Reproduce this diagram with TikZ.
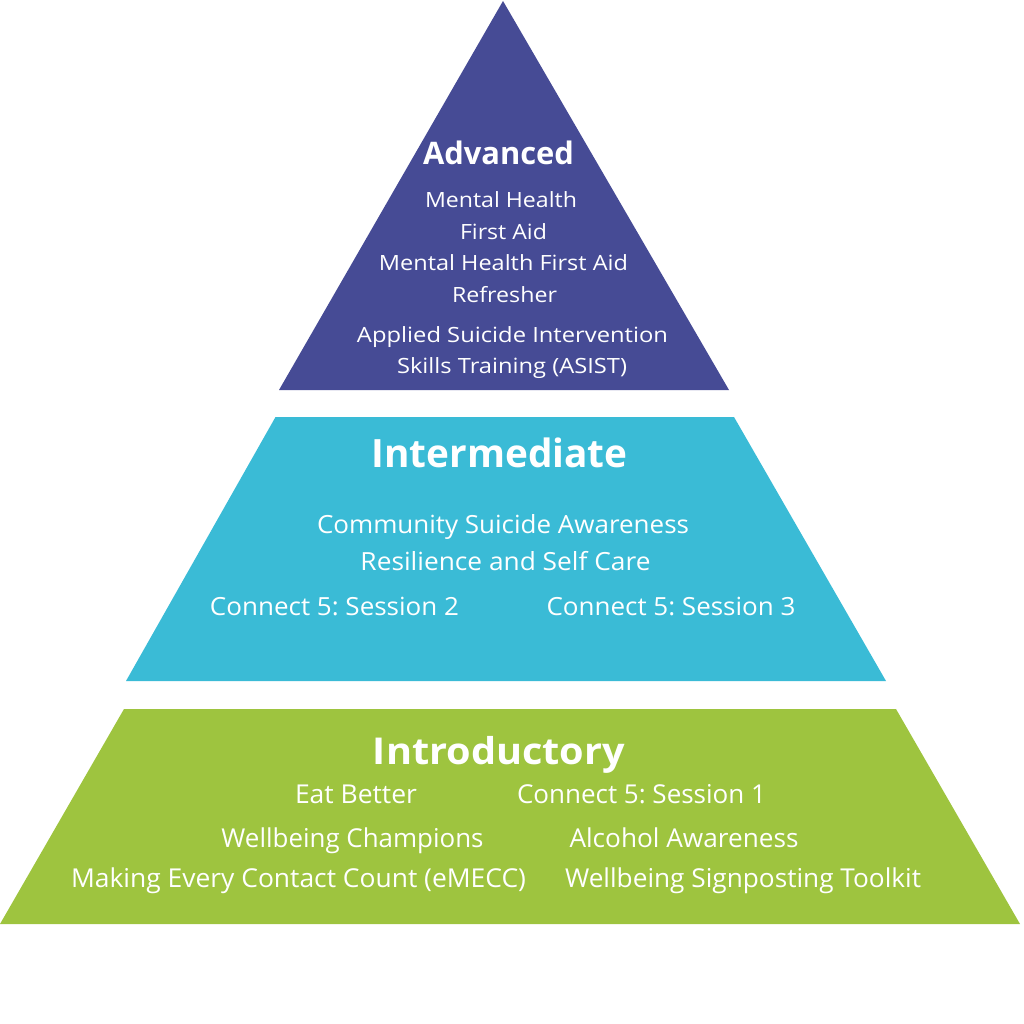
\documentclass[tikz,border=0pt]{standalone}
\usepackage{fontspec}
\setmainfont{Open Sans}
\usepackage{graphicx}
\definecolor{tierpurple}{HTML}{464B95}
\definecolor{tiercyan}{HTML}{3ABBD6}
\definecolor{tiergreen}{HTML}{9EC43F}
\newcommand{\fitw}[2]{\resizebox{#1pt}{\height}{#2}}
\frenchspacing
\begin{document}
\frenchspacing
\begin{tikzpicture}[x=1pt,y=-1pt,
  lbl/.style={text=white, anchor=base, inner sep=0pt},
  advhead/.style={lbl, font=\fontsize{31}{33}\selectfont\bfseries},
  advbody/.style={lbl, font=\fontsize{21}{23}\selectfont},
  midhead/.style={lbl, font=\fontsize{39}{41}\selectfont\bfseries},
  midbody/.style={lbl, font=\fontsize{25}{27}\selectfont},
  bothead/.style={lbl, font=\fontsize{37}{39}\selectfont\bfseries},
  botbody/.style={lbl, font=\fontsize{26}{28}\selectfont}]
\useasboundingbox (0,0) rectangle (1024,1024);
% tiers
\fill[tierpurple] (503,1) -- (729,390) -- (279,390) -- cycle;
\fill[tiercyan] (275.5,417) -- (734,417) -- (886,681) -- (126,681) -- cycle;
\fill[tiergreen] (124,709) -- (896,709) -- (1020,924) -- (0,924) -- cycle;
% Advanced
\node[advhead] (adv) at (498.5,165) {\fitw{151}{Advanced}};
\node[advbody] (a1) at (501,208) {\fitw{152}{Mental Health}};
\node[advbody] (a2) at (503.5,240) {\fitw{87}{First Aid}};
\node[advbody] (a3) at (503.5,270) {\fitw{249}{Mental Health First Aid}};
\node[advbody] (a4) at (504.5,302) {\fitw{105}{Refresher}};
\node[advbody] (a5) at (512.5,342) {\fitw{311}{Applied Suicide Intervention}};
\node[advbody] (a6) at (512,373) {\fitw{230}{Skills Training (ASIST)}};
% Intermediate
\node[midhead] (mid) at (499.5,467) {\fitw{256}{Intermediate}};
\node[midbody] (m1) at (503,533) {\fitw{372}{Community Suicide Awareness}};
\node[midbody] (m2) at (505.5,570) {\fitw{290}{Resilience and Self Care}};
\node[midbody] (m3) at (334.5,615) {\fitw{249}{Connect 5: Session 2}};
\node[midbody] (m4) at (671,615) {\fitw{249}{Connect 5: Session 3}};
% Introductory
\node[bothead] (intro) at (499,764) {\fitw{252}{Introductory}};
\node[botbody] (b1) at (356,803) {\fitw{122}{Eat Better}};
\node[botbody] (b2) at (641.5,803) {\fitw{249}{Connect 5: Session 1}};
\node[botbody] (b3) at (352.5,847) {\fitw{262}{Wellbeing Champions}};
\node[botbody] (b4) at (684,847) {\fitw{229}{Alcohol Awareness}};
\node[botbody] (b5) at (298.5,887) {\fitw{455}{Making Every Contact Count (eMECC)}};
\node[botbody] (b6) at (743,887) {\fitw{356}{Wellbeing Signposting Toolkit}};
\end{tikzpicture}
\end{document}
